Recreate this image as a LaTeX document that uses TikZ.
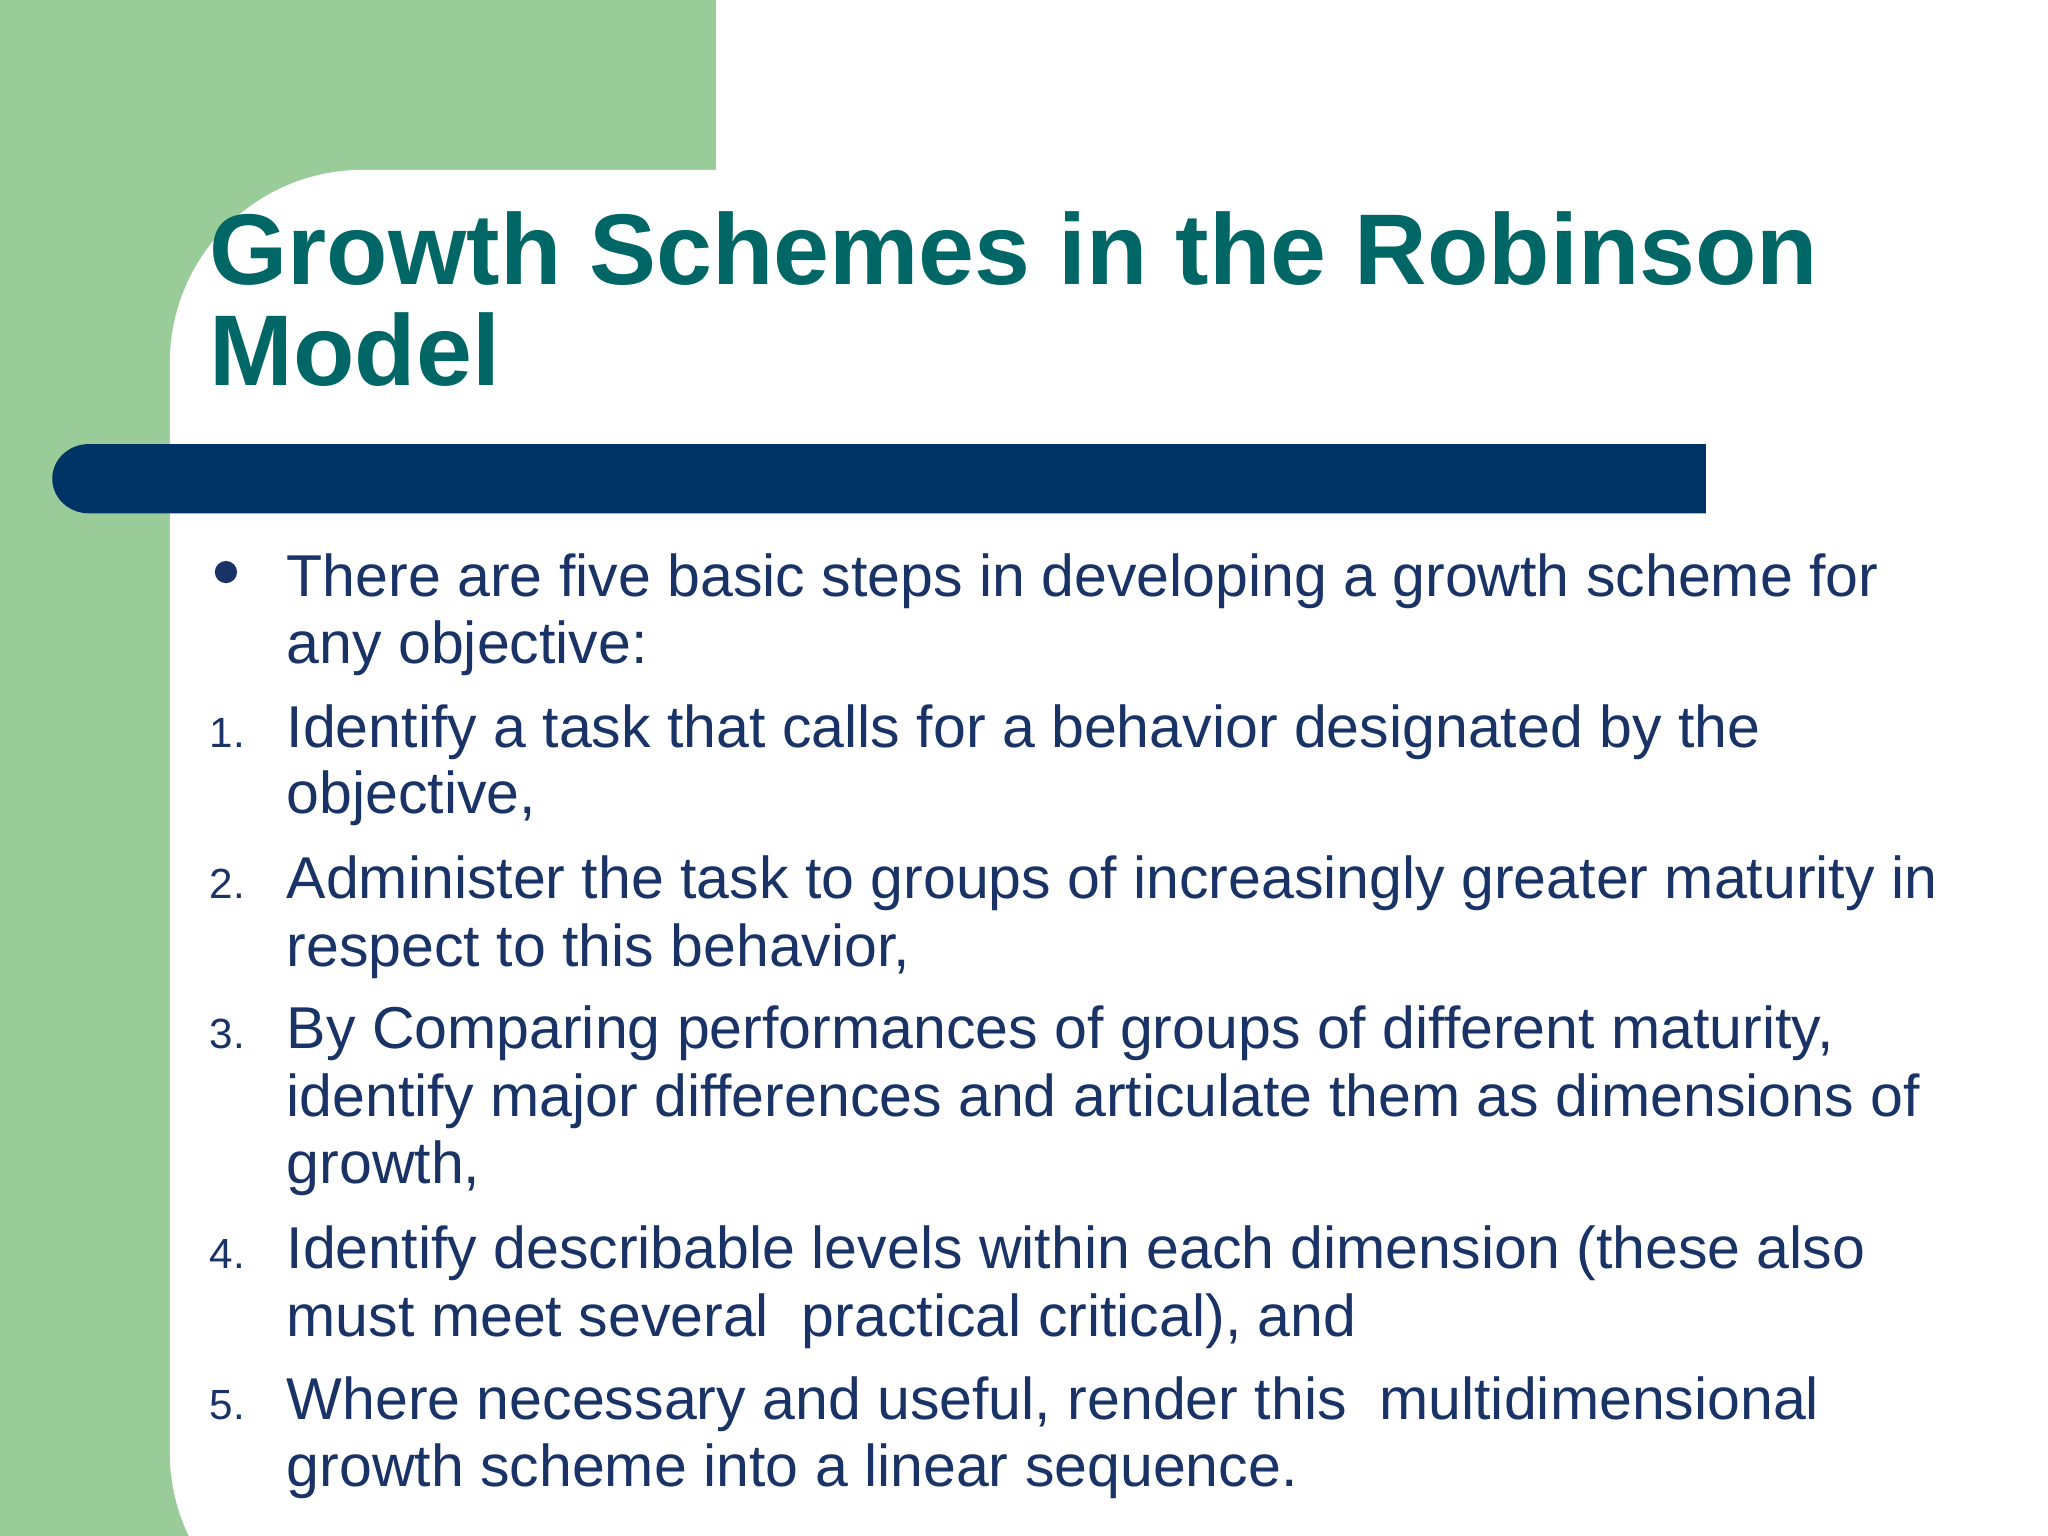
\documentclass[tikz,border=0pt]{standalone}
\usepackage{fontspec}
\setmainfont{Liberation Sans}
\definecolor{grn}{HTML}{99CC99}
\definecolor{navy}{HTML}{003366}
\definecolor{teal}{HTML}{006666}
\definecolor{txt}{HTML}{1A3366}
\begin{document}
\begin{tikzpicture}[x=0.013061cm,y=-0.013061cm,
  ttl/.style={anchor=base west,inner sep=0,text=teal,font=\bfseries\fontsize{28.6}{30}\selectfont},
  body/.style={anchor=base west,inner sep=0,text=txt,font=\fontsize{16.8}{20}\selectfont},
  num/.style={anchor=base west,inner sep=0,text=txt,font=\fontsize{12}{14}\selectfont}]
\useasboundingbox (0,0) rectangle (1568,1176);
\fill[white] (0,0) rectangle (1568,1176);
\fill[grn] (0,0) rectangle (548,1176);
\fill[white,rounded corners=55] (130,130) rectangle (1650,1260);
\fill[navy] (1306,340) -- (68,340) arc[start angle=90,end angle=270,x radius=28,y radius=-26.5] -- (1306,393) -- cycle;
\node[ttl] (t1) at (160,218) {Growth Schemes in the Robinson};
\node[ttl] (t2) at (160,295) {Model};
\fill[txt] (173,438) circle[radius=8.5];
\node[body] (l1) at (219,457) {There are five basic steps in developing a growth scheme for};
\node[body] (l2) at (219,508) {any objective:};
\node[num] (n1) at (160,572) {1.};
\node[body] (l3) at (219,572) {Identify a task that calls for a behavior designated by the};
\node[body] (l4) at (219,623) {objective,};
\node[num] (n2) at (160,688) {2.};
\node[body] (l5) at (219,688) {Administer the task to groups of increasingly greater maturity in};
\node[body] (l6) at (219,740) {respect to this behavior,};
\node[num] (n3) at (160,803) {3.};
\node[body] (l7) at (219,803) {By Comparing performances of groups of different maturity,};
\node[body] (l8) at (219,855) {identify major differences and articulate them as dimensions of};
\node[body] (l9) at (219,906) {growth,};
\node[num] (n4) at (160,971) {4.};
\node[body] (l10) at (219,971) {Identify describable levels within each dimension (these also};
\node[body] (l11) at (219,1023) {must meet several\ \ practical critical), and};
\node[num] (n5) at (160,1087) {5.};
\node[body] (l12) at (219,1087) {Where necessary and useful, render this\ \ multidimensional};
\node[body] (l13) at (219,1138) {growth scheme into a linear sequence.};
\end{tikzpicture}
\end{document}
